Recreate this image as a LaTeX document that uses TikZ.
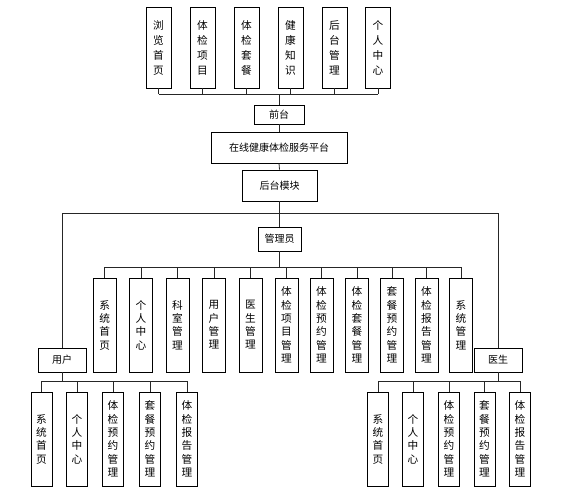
\documentclass[tikz,border=0pt]{standalone}
\usepackage{fontspec}
\newfontfamily\cjk{Noto Sans CJK SC}
\usetikzlibrary{shadows}

\tikzset{
  box/.style={draw, line width=0.7pt, fill=white, inner sep=0pt, align=center,
    drop shadow={shadow xshift=0.7pt, shadow yshift=-0.7pt, fill=black!35}},
  topbox/.style={box, minimum width=18.75pt, minimum height=60.75pt,
    font=\cjk\fontsize{8}{11.25}\selectfont},
  modbox/.style={box, minimum width=17.25pt, minimum height=70.5pt,
    font=\cjk\fontsize{8}{10}\selectfont},
  subbox/.style={box, minimum width=15.75pt, minimum height=70.5pt,
    font=\cjk\fontsize{8}{10}\selectfont},
  hbox/.style={box, font=\cjk\fontsize{7.5}{9}\selectfont},
  link/.style={line width=0.6pt, black!85}
}

\begin{document}
\begin{tikzpicture}[x=0.75pt, y=-0.75pt]

  \useasboundingbox (0,0) rectangle (577,496);

  % 前台模块
  \foreach \x/\t [count=\i] in {158.5/{浏\\览\\首\\页}, 202.5/{体\\检\\项\\目},
      246.5/{体\\检\\套\\餐}, 290.5/{健\\康\\知\\识},
      334.5/{后\\台\\管\\理}, 378/{个\\人\\中\\心}}
    \node[topbox] (t\i) at (\x,47.5) {\t};

  \node[hbox, minimum width=37.5pt, minimum height=14.25pt] (qt) at (279,114.5) {前台};
  \node[hbox, minimum width=102pt, minimum height=23.25pt] (pt) at (279,147.5) {在线健康体检服务平台};
  \node[hbox, minimum width=56.25pt, minimum height=23.25pt] (ht) at (279.5,185.5) {后台模块};

  \coordinate (fbus) at (279,94);
  \foreach \i in {1,...,6}
    \draw[link] (t\i.south) -- (t\i.south |- fbus);
  \draw[link] (t1.south |- fbus) -- (t6.south |- fbus);
  \draw[link] (fbus) -- (qt.north);
  \draw[link] (qt.south) -- (pt.north);
  \draw[link] (pt.south) -- (ht.north);

  % 角色
  \node[hbox, minimum width=32.25pt, minimum height=18pt] (gly) at (279.5,239) {管理员};
  \node[hbox, minimum width=36pt, minimum height=18pt] (yh) at (62,360) {用户};
  \node[hbox, minimum width=36pt, minimum height=18pt] (ys) at (498,360) {医生};

  \coordinate (hbus) at (279.5,213);
  \draw[link] (ht.south) -- (hbus);
  \draw[link] (hbus) -- (gly.north);
  \draw[link] (yh.north) -- (yh.north |- hbus) -- (ys.north |- hbus) -- (ys.north);

  % 管理员模块
  \foreach \x/\t [count=\i] in {104.7/{系\\统\\首\\页}, 141/{个\\人\\中\\心},
      177.5/{科\\室\\管\\理}, 214/{用\\户\\管\\理}, 250.5/{医\\生\\管\\理},
      286.5/{体\\检\\项\\目\\管\\理}, 321.5/{体\\检\\预\\约\\管\\理},
      357/{体\\检\\套\\餐\\管\\理}, 392/{套\\餐\\预\\约\\管\\理},
      426.5/{体\\检\\报\\告\\管\\理}, 461/{系\\统\\管\\理}}
    \node[modbox] (a\i) at (\x,325) {\t};

  \coordinate (abus) at (279.5,267);
  \draw[link] (gly.south) -- (abus);
  \foreach \i in {1,...,11}
    \draw[link] (a\i.north) -- (a\i.north |- abus);
  \draw[link] (a1.north |- abus) -- (a11.north |- abus);

  % 用户模块
  \foreach \x/\t [count=\i] in {41.5/{系\\统\\首\\页}, 77/{个\\人\\中\\心},
      113/{体\\检\\预\\约\\管\\理}, 150/{套\\餐\\预\\约\\管\\理},
      187/{体\\检\\报\\告\\管\\理}}
    \node[subbox] (u\i) at (\x,439) {\t};

  \coordinate (ubus) at (62,381);
  \draw[link] (yh.south) -- (ubus);
  \foreach \i in {1,...,5}
    \draw[link] (u\i.north) -- (u\i.north |- ubus);
  \draw[link] (u1.north |- ubus) -- (u5.north |- ubus);

  % 医生模块
  \foreach \x/\t [count=\i] in {378/{系\\统\\首\\页}, 413/{个\\人\\中\\心},
      449/{体\\检\\预\\约\\管\\理}, 484.5/{套\\餐\\预\\约\\管\\理},
      520/{体\\检\\报\\告\\管\\理}}
    \node[subbox] (d\i) at (\x,439) {\t};

  \coordinate (dbus) at (498,381);
  \draw[link] (ys.south) -- (dbus);
  \foreach \i in {1,...,5}
    \draw[link] (d\i.north) -- (d\i.north |- dbus);
  \draw[link] (d1.north |- dbus) -- (d5.north |- dbus);

\end{tikzpicture}
\end{document}
